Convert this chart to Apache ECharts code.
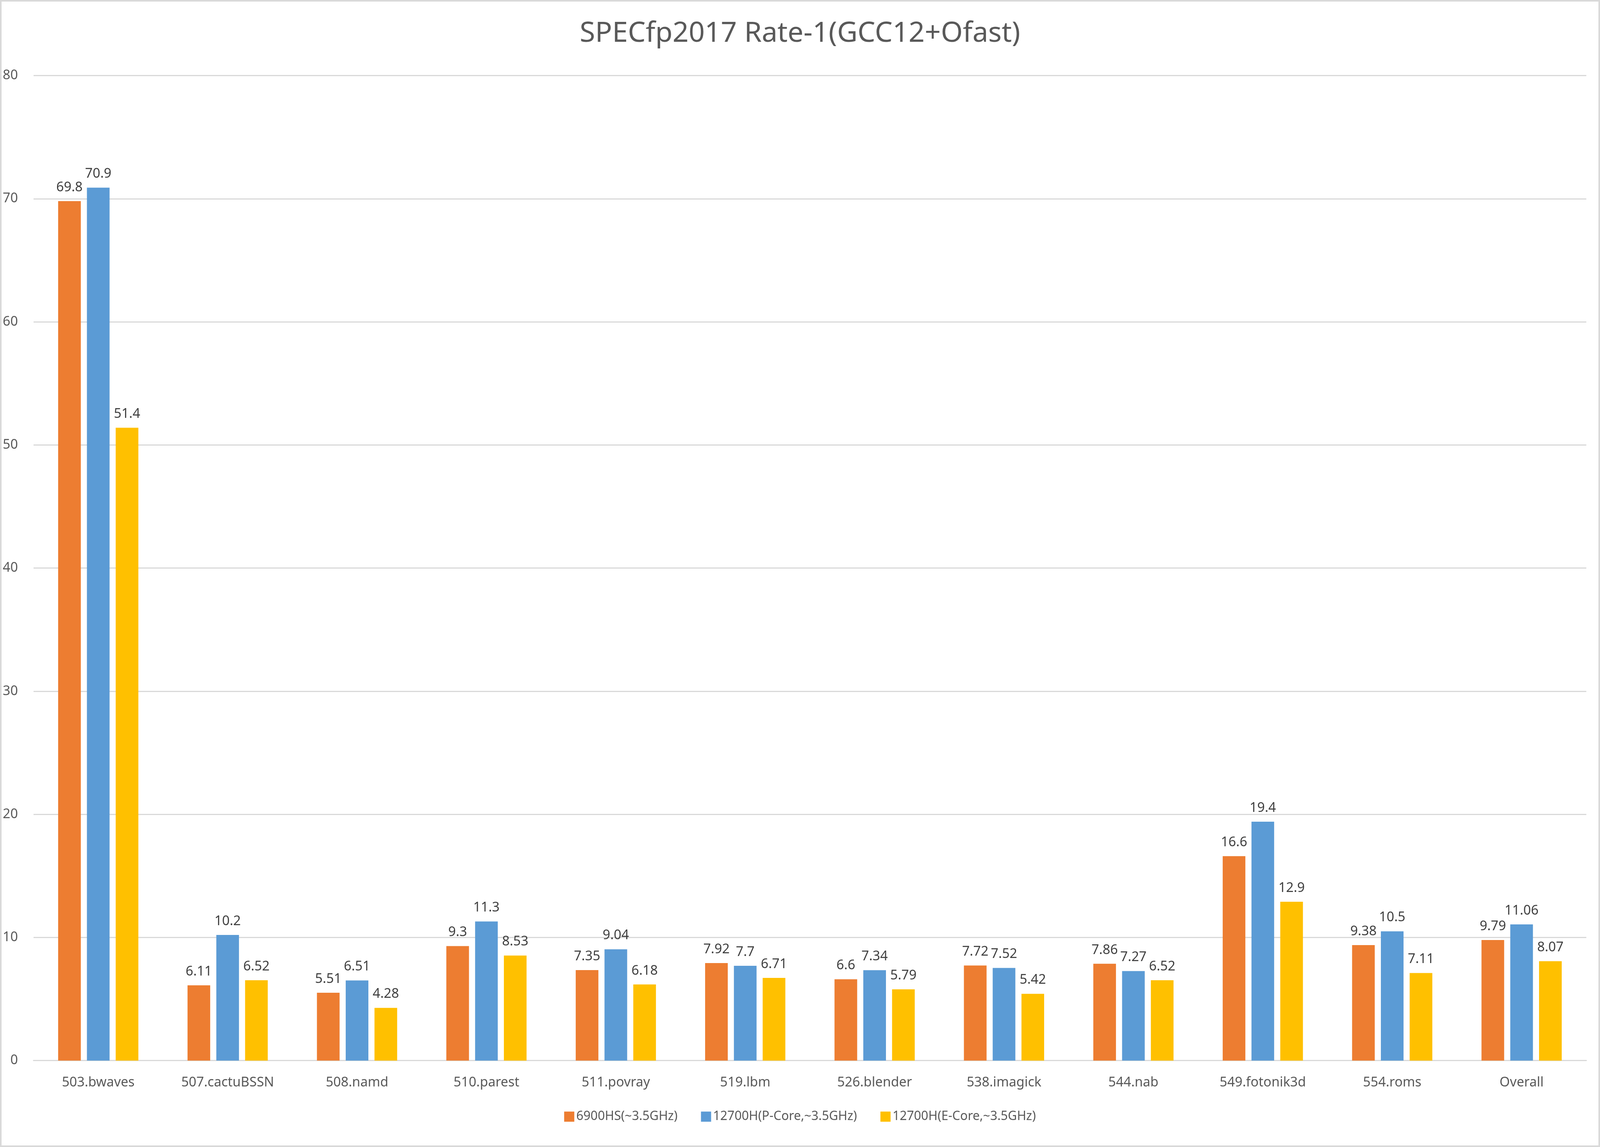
<!DOCTYPE html>
<html>
<head>
<meta charset="utf-8">
<script src="https://cdn.jsdelivr.net/npm/echarts@6/dist/echarts.min.js"></script>
<style>
html,body{margin:0;padding:0;background:#fff;width:100%;height:100%;overflow:hidden;}
#chart{width:100vw;height:100vh;box-sizing:border-box;border:4px solid #d9d9d9;}
</style>
</head>
<body>
<div id="chart"></div>
<script>
var categories = ['503.bwaves','507.cactuBSSN','508.namd','510.parest','511.povray','519.lbm','526.blender','538.imagick','544.nab','549.fotonik3d','554.roms','Overall'];
var amd6900hs = [69.8,6.11,5.51,9.3,7.35,7.92,6.6,7.72,7.86,16.6,9.38,9.79];
var pCore = [70.9,10.2,6.51,11.3,9.04,7.7,7.34,7.52,7.27,19.4,10.5,11.06];
var eCore = [51.4,6.52,4.28,8.53,6.18,6.71,5.79,5.42,6.52,12.9,7.11,8.07];
var seriesNames = ['6900HS(~3.5GHz)','12700H(P-Core,~3.5GHz)','12700H(E-Core,~3.5GHz)'];

var font = 'Noto Sans';
var chart = echarts.init(document.getElementById('chart'));

function bar(name, data, color){
  return {
    name: name, type: 'bar', data: data,
    barGap: '27%', barCategoryGap: '38%',
    itemStyle: {color: color},
    label: {show: true, position: 'top', distance: 18, color: '#404040', fontSize: 34, fontFamily: font}
  };
}

chart.setOption({
  animation: false,
  textStyle: {fontFamily: font},
  title: {
    text: 'SPECfp2017 Rate-1(GCC12+Ofast)', left: 'center', top: '1.4%',
    textStyle: {fontSize: 72, fontWeight: 'normal', color: '#595959', fontFamily: font}
  },
  legend: {
    bottom: '1.8%', itemWidth: 26, itemHeight: 26, itemGap: 60,
    icon: 'rect',
    textStyle: {fontSize: 32, color: '#595959', fontFamily: font}
  },
  grid: {left: '1.77%', right: '0.76%', top: '6.47%', bottom: '7.42%', containLabel: false},
  xAxis: {
    type: 'category', data: categories,
    axisLine: {lineStyle: {color: '#d9d9d9', width: 3}},
    axisTick: {show: false},
    axisLabel: {fontSize: 34, color: '#595959', margin: 40, fontFamily: font}
  },
  yAxis: {
    type: 'value', min: 0, max: 80, interval: 10,
    axisLine: {show: false}, axisTick: {show: false},
    splitLine: {lineStyle: {color: '#d9d9d9', width: 3}},
    axisLabel: {fontSize: 34, color: '#595959', margin: 40, fontFamily: font}
  },
  series: [
    bar(seriesNames[0], amd6900hs, '#ED7D31'),
    bar(seriesNames[1], pCore, '#5B9BD5'),
    bar(seriesNames[2], eCore, '#FFC000')
  ]
});
window.addEventListener('resize', function(){ chart.resize(); });
</script>
</body>
</html>
